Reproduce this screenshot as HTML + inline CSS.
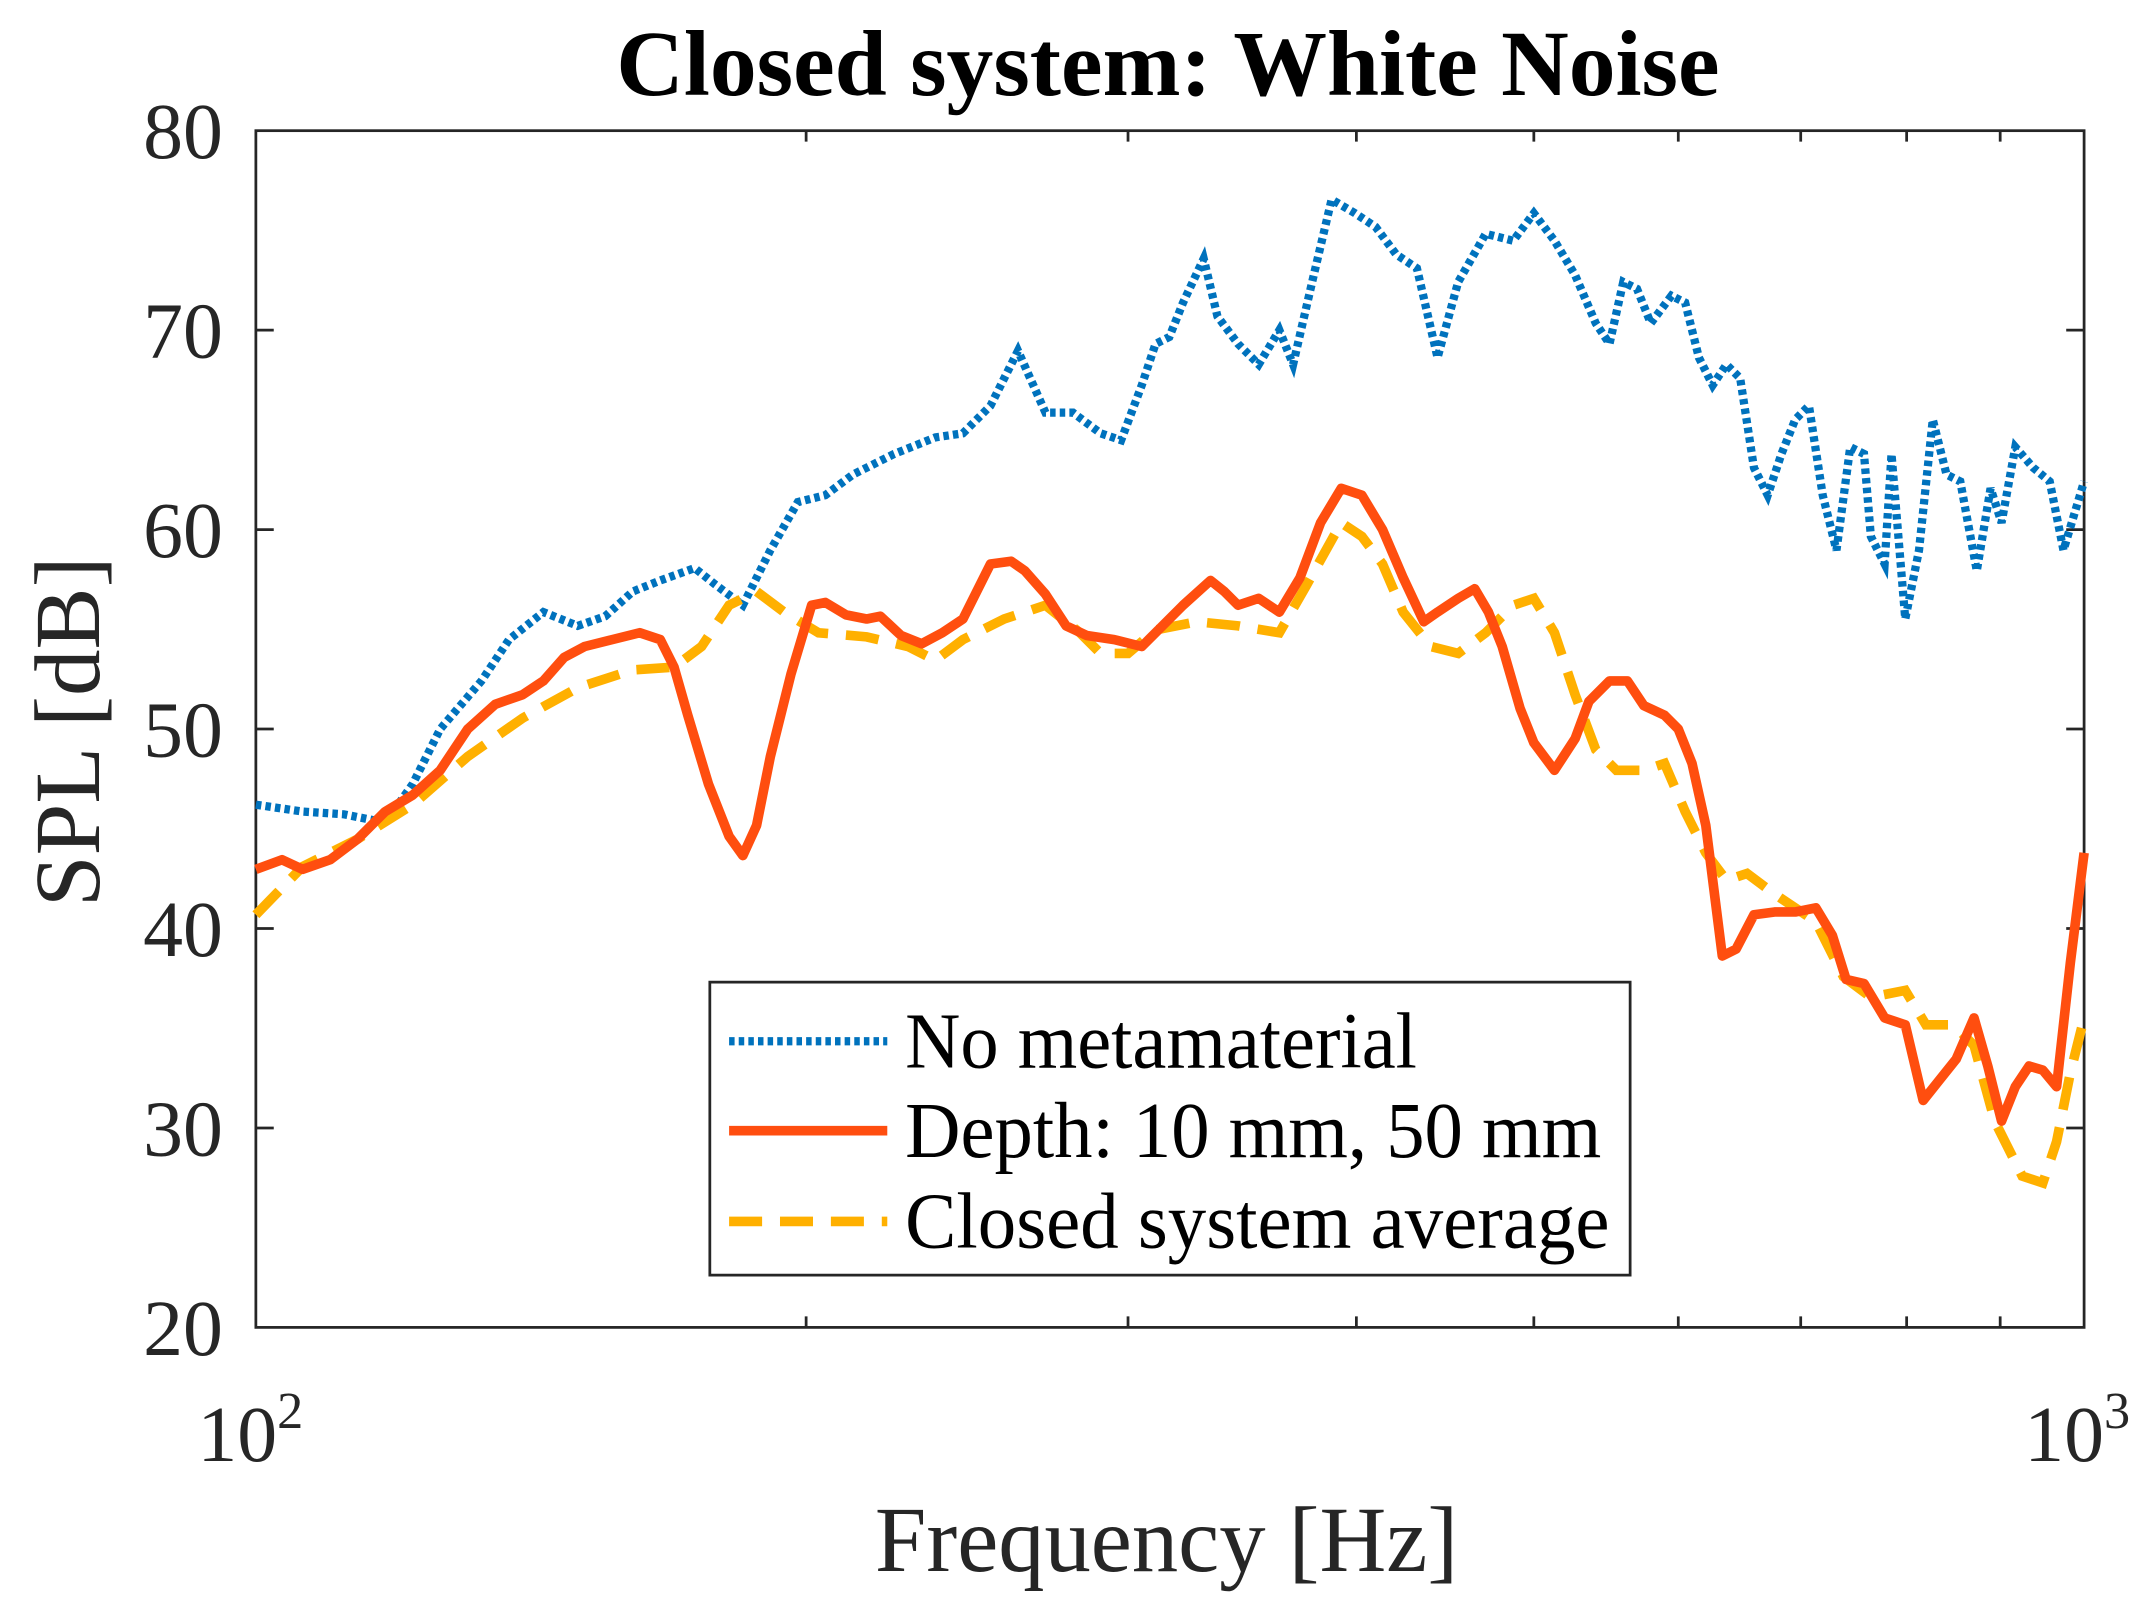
<!DOCTYPE html>
<html><head><style>html,body{margin:0;padding:0;background:#fff}svg{display:block}</style></head><body>
<svg width="2146" height="1597" viewBox="0 0 1560 1161" preserveAspectRatio="none" xmlns="http://www.w3.org/2000/svg" font-family="Liberation Serif, serif">
<rect width="1560" height="1161" fill="#fff"/>
<text x="849" y="69" text-anchor="middle" font-size="68" font-weight="bold" fill="#000" textLength="802" lengthAdjust="spacingAndGlyphs">Closed system: White Noise</text>
<g stroke="#262626" stroke-width="2" fill="none">
<rect x="186" y="95" width="1329" height="870"/>
<path d="M186,240h13M186,385h13M186,530h13M186,675h13M186,820h13M1515,240h-13M1515,385h-13M1515,530h-13M1515,675h-13M1515,820h-13"/>
<path d="M586,965v-8M820,965v-8M986,965v-8M1115,965v-8M1220,965v-8M1309,965v-8M1386,965v-8M1454,965v-8M586,95v8M820,95v8M986,95v8M1115,95v8M1220,95v8M1309,95v8M1386,95v8M1454,95v8"/>
</g>
<g font-size="58" fill="#262626" text-anchor="end">
<text x="162" y="115">80</text><text x="162" y="260">70</text><text x="162" y="405">60</text><text x="162" y="550">50</text><text x="162" y="695">40</text><text x="162" y="840">30</text><text x="162" y="985">20</text>
</g>
<g font-size="58" fill="#262626" text-anchor="middle">
<text x="182" y="1062">10<tspan dy="-24" font-size="38">2</tspan></text>
<text x="1510" y="1062">10<tspan dy="-24" font-size="38">3</tspan></text>
</g>
<text x="848" y="1142" text-anchor="middle" font-size="68" fill="#262626" textLength="424" lengthAdjust="spacingAndGlyphs">Frequency [Hz]</text>
<text transform="translate(72,532) rotate(-90)" text-anchor="middle" font-size="68" fill="#262626" textLength="255" lengthAdjust="spacingAndGlyphs">SPL [dB]</text>
<polyline fill="none" stroke="#0072BD" stroke-width="6" stroke-dasharray="4,3" points="186,585 220,590 250,592 280,598 300,570 320,530 350,495 370,465 395,445 420,455 440,448 460,430 480,422 505,413 520,425 540,440 560,400 580,365 600,360 620,345 650,330 680,318 700,315 720,295 740,255 760,300 780,300 800,315 815,320 830,280 840,250 850,245 860,220 875,188 885,230 900,250 915,265 930,240 940,265 955,200 968,145 985,155 1000,165 1015,185 1030,195 1045,260 1060,205 1080,170 1100,175 1115,155 1130,175 1145,200 1160,235 1170,250 1180,205 1190,210 1200,235 1215,215 1225,220 1235,260 1245,280 1255,265 1265,275 1275,340 1285,360 1295,330 1305,305 1315,295 1325,360 1335,400 1345,325 1355,330 1360,390 1370,410 1375,330 1385,450 1395,400 1405,305 1415,345 1425,350 1437,415 1447,355 1455,380 1465,325 1478,340 1490,350 1500,400 1515,350"/>
<polyline fill="none" stroke="#FFB000" stroke-width="7" stroke-dasharray="24,13" points="186,665 220,630 260,610 300,585 340,550 380,522 420,500 460,487 490,485 510,470 530,440 550,430 570,445 595,460 630,463 660,470 680,480 700,465 730,450 760,440 785,460 800,475 820,475 840,458 870,452 900,455 930,460 950,425 975,380 990,390 1005,410 1020,445 1040,470 1060,475 1080,460 1100,440 1115,435 1130,460 1145,505 1160,545 1175,560 1195,560 1210,555 1225,590 1240,620 1255,640 1270,635 1290,650 1305,660 1320,670 1340,710 1360,725 1385,720 1400,745 1420,745 1435,760 1450,815 1470,855 1485,860 1495,830 1505,780 1515,740"/>
<polyline fill="none" stroke="#FF4E0F" stroke-width="7" stroke-linejoin="round" points="186,632 205,625 220,632 240,625 260,610 280,590 300,578 320,560 340,530 360,512 380,505 395,495 410,478 425,470 445,465 465,460 480,465 490,485 500,520 515,570 530,608 540,622 550,600 560,550 575,490 590,440 600,438 615,447 630,450 640,448 655,462 670,468 685,460 700,450 710,430 720,410 735,408 745,415 760,432 775,455 790,462 810,465 830,470 845,455 860,440 880,422 890,430 900,440 915,435 930,445 945,420 960,380 975,355 990,360 1005,385 1020,420 1035,452 1045,445 1060,435 1072,428 1082,445 1092,470 1105,515 1115,540 1130,560 1145,537 1155,510 1170,495 1183,495 1195,513 1210,520 1220,530 1230,555 1240,600 1252,695 1262,690 1275,665 1290,663 1305,663 1320,660 1332,680 1342,712 1355,715 1370,740 1385,745 1398,800 1410,785 1422,770 1435,740 1445,775 1455,815 1465,790 1475,775 1485,778 1495,790 1505,700 1515,620"/>
<rect x="516" y="714" width="669" height="213" fill="#fff" stroke="#262626" stroke-width="2"/>
<line x1="530" y1="757" x2="645" y2="757" stroke="#0072BD" stroke-width="6" stroke-dasharray="4,3"/>
<line x1="530" y1="822" x2="645" y2="822" stroke="#FF4E0F" stroke-width="7"/>
<line x1="530" y1="888" x2="645" y2="888" stroke="#FFB000" stroke-width="7" stroke-dasharray="24,13"/>
<g font-size="58" fill="#000">
<text x="658" y="776" textLength="372" lengthAdjust="spacingAndGlyphs">No metamaterial</text>
<text x="658" y="841" textLength="506" lengthAdjust="spacingAndGlyphs">Depth: 10 mm, 50 mm</text>
<text x="658" y="907" textLength="512" lengthAdjust="spacingAndGlyphs">Closed system average</text>
</g>
</svg>
</body></html>
